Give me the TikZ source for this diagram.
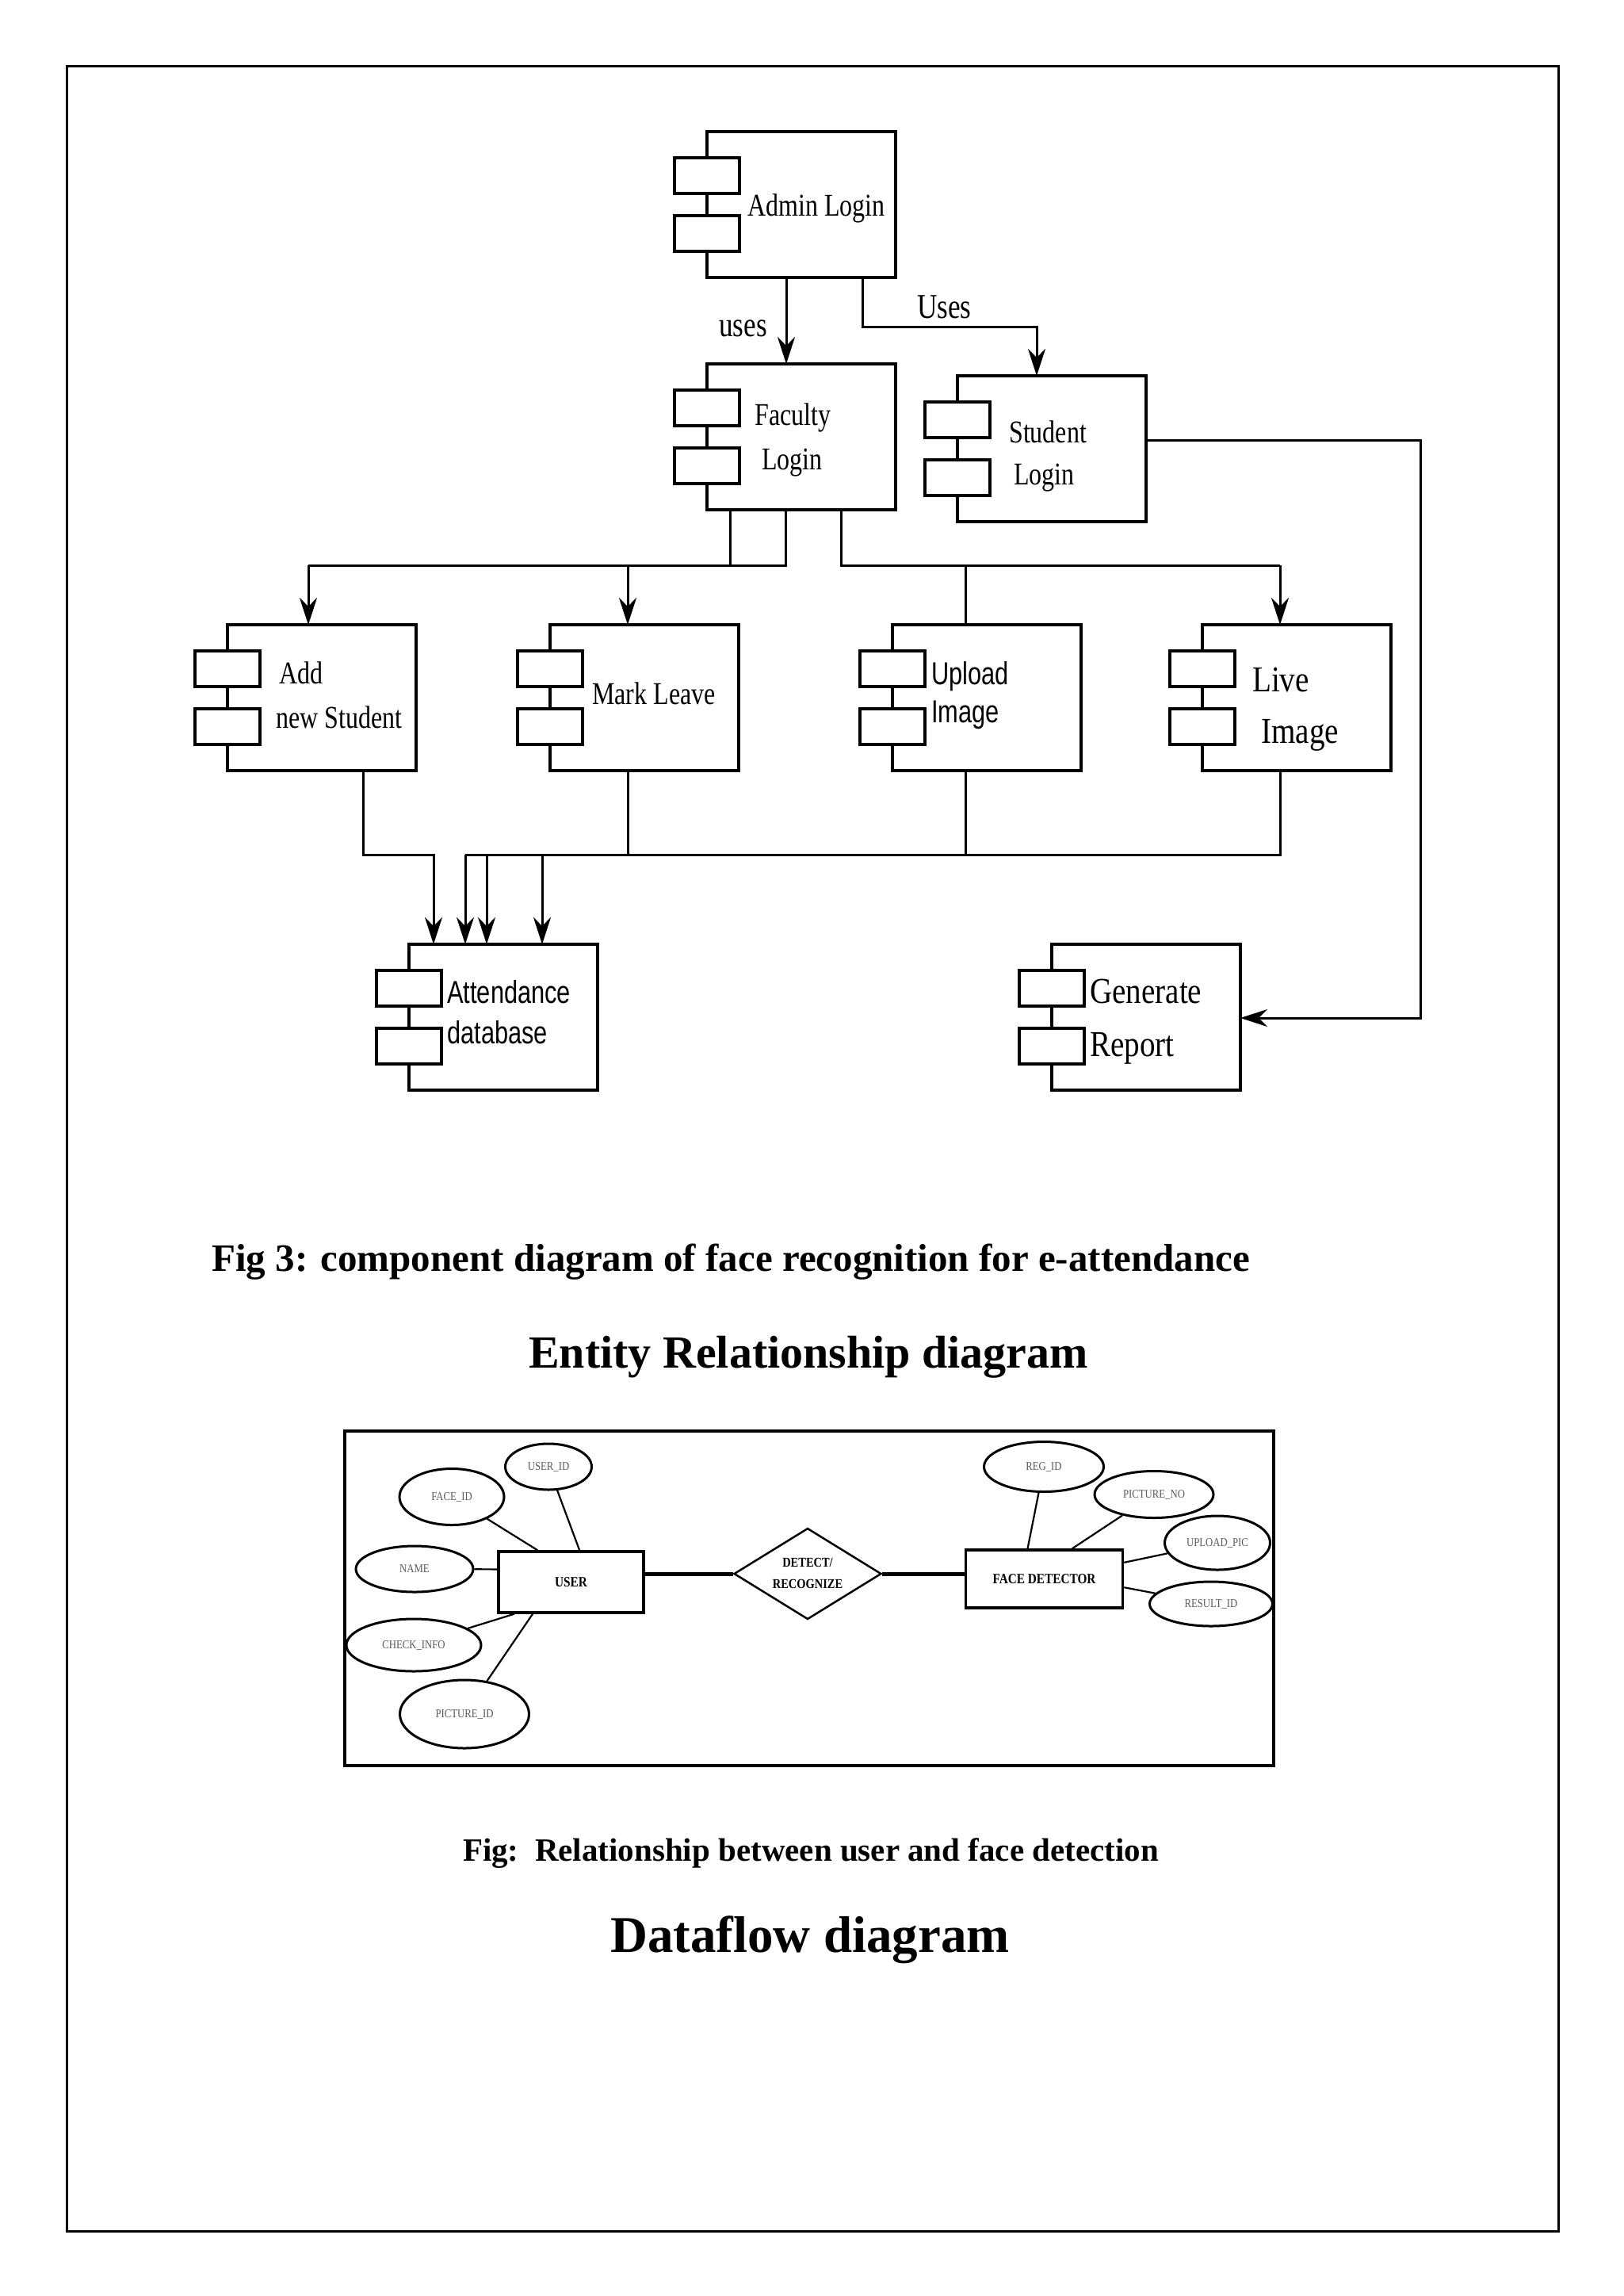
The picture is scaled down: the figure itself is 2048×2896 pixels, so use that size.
\documentclass[tikz,border=0pt]{standalone}
\usepackage{fontspec}
\setmainfont{Liberation Serif}
\newfontfamily\cserif[FakeStretch=0.8]{Liberation Serif}
\newfontfamily\gserif[FakeStretch=0.85]{Liberation Serif}
\newfontfamily\csans[FakeStretch=0.77]{Liberation Sans}
\newfontfamily\erserif[FakeStretch=0.85]{Liberation Serif}
\usetikzlibrary{arrows.meta,shapes.geometric,calc}
\newcommand\mkcomp[3]{%
  \node[compbox] (#1) at (#2,#3) {};
  \node[port] (#1p1) at ($(#1.north west)+(0,55)$) {};
  \node[port] (#1p2) at ($(#1.north west)+(0,128)$) {};
}
\begin{document}
\begin{tikzpicture}[x=1pt,y=-1pt,
  compbox/.style={draw,line width=4pt,minimum width=238pt,minimum height=184pt,inner sep=0pt,outer sep=0pt,anchor=north west},
  port/.style={draw,fill=white,line width=4pt,minimum width=82pt,minimum height=45pt,inner sep=0pt},
  lbl/.style={anchor=base west,inner sep=0pt,font=\cserif\fontsize{40}{44}\selectfont},
  slbl/.style={anchor=base west,inner sep=0pt,font=\csans\fontsize{40}{44}\selectfont},
  glbl/.style={anchor=base west,inner sep=0pt,font=\gserif\fontsize{46}{50}\selectfont},
  ulbl/.style={anchor=base west,inner sep=0pt,font=\cserif\fontsize{44}{48}\selectfont},
  conn/.style={line width=3pt},
  arr/.style={conn,-{Stealth[length=34pt,width=22pt]}},
  erent/.style={draw,line width=3.5pt,inner sep=0pt,font=\erserif\bfseries\fontsize{18}{20}\selectfont},
  erattr/.style={draw,ellipse,line width=3pt,inner sep=0pt,text=black!65,font=\erserif\fontsize{15}{17}\selectfont},
  erline/.style={line width=2.2pt},
  caption/.style={inner sep=0pt,font=\bfseries\fontsize{#1}{#1}\selectfont}
]
% page
\fill[white] (0,0) rectangle (2048,2896);
\useasboundingbox (0,0) rectangle (2048,2896);
\draw[line width=3pt] (84,83) rectangle (1966,2814);

% ---------- component diagram ----------
\mkcomp{admin}{892}{166}
\mkcomp{fac}{892}{459}
\mkcomp{stu}{1208}{474}
\mkcomp{add}{287}{788}
\mkcomp{mark}{694}{788}
\mkcomp{upl}{1126}{788}
\mkcomp{live}{1517}{788}
\mkcomp{att}{516}{1191}
\mkcomp{gen}{1327}{1191}

\node[lbl] (tadmin) at (943,272) {Admin Login};
\node[lbl] (tfac1) at (952,536) {Faculty};
\node[lbl] (tfac2) at (961,592) {Login};
\node[lbl] (tstu1) at (1273,558) {Student};
\node[lbl] (tstu2) at (1279,611) {Login};
\node[lbl] (tadd1) at (352,862) {Add};
\node[lbl] (tadd2) at (348,918) {new Student};
\node[lbl] (tmark) at (747,888) {Mark Leave};
\node[slbl] (tupl1) at (1175,863) {Upload};
\node[slbl] (tupl2) at (1175,911) {Image};
\node[glbl] (tlive1) at (1580,872) {Live};
\node[glbl] (tlive2) at (1591,937) {Image};
\node[slbl] (tatt1) at (564,1265) {Attendance};
\node[slbl] (tatt2) at (564,1316) {database};
\node[glbl] (tgen1) at (1375,1265) {Generate};
\node[glbl] (tgen2) at (1375,1332) {Report};
\node[ulbl] (tuses1) at (907,424) {uses};
\node[ulbl] (tuses2) at (1157,401) {Uses};

% guide coordinates
\coordinate (xa) at (992,0);
\coordinate (xb) at (1088,0);
\coordinate (xc) at (1308,0);
\coordinate (yU) at (0,412);
\coordinate (xf1) at (921,0);
\coordinate (xf2) at (991,0);
\coordinate (xf3) at (1061,0);
\coordinate (yF) at (0,713);
\coordinate (xadd) at (389,0);
\coordinate (xmark) at (792,0);
\coordinate (xupl) at (1218,0);
\coordinate (xlive) at (1615,0);
\coordinate (xaddb) at (458,0);
\coordinate (yB) at (0,1078);
\coordinate (xa1) at (547,0);
\coordinate (xa2) at (587,0);
\coordinate (xa3) at (614,0);
\coordinate (xa4) at (684,0);
\coordinate (ys) at (0,555);
\coordinate (xr) at (1792,0);
\coordinate (ygen) at (0,1284);

\draw[arr] (admin.south -| xa) -- (fac.north -| xa);
\draw[arr] (admin.south -| xb) |- (xc |- yU) -- (stu.north -| xc);

\draw[conn] (fac.south -| xf1) -- (xf1 |- yF);
\draw[conn] (fac.south -| xf2) -- (xf2 |- yF) -- (xadd |- yF);
\draw[arr] (xadd |- yF) -- (add.north -| xadd);
\draw[arr] (xmark |- yF) -- (mark.north -| xmark);
\draw[conn] (fac.south -| xf3) |- (xlive |- yF);
\draw[conn] (xupl |- yF) -- (upl.north -| xupl);
\draw[arr] (xlive |- yF) -- (live.north -| xlive);

\draw[arr] (add.south -| xaddb) |- (xa1 |- yB) -- (att.north -| xa1);
\draw[conn] (mark.south -| xmark) -- (xmark |- yB);
\draw[conn] (upl.south -| xupl) -- (xupl |- yB);
\draw[conn] (live.south -| xlive) -- (xlive |- yB) -- (xa2 |- yB);
\draw[arr] (xa2 |- yB) -- (att.north -| xa2);
\draw[arr] (xa3 |- yB) -- (att.north -| xa3);
\draw[arr] (xa4 |- yB) -- (att.north -| xa4);

\draw[arr] (stu.east |- ys) -| (xr |- ygen) -- (gen.east |- ygen);

% ---------- captions ----------
\node[caption=49,anchor=base west] (cap1) at (267,1603) {Fig 3: component diagram of face recognition for e-attendance};
\node[caption=58,anchor=base] (title1) at (1020,1725) {Entity Relationship diagram};
\node[caption=41,anchor=base] (cap2) at (1023,2347) {Fig:\ \ Relationship between user and face detection};
\node[caption=65,anchor=base] (title2) at (1022,2462) {Dataflow diagram};

% ---------- ER diagram ----------
\draw[line width=3.5pt] (435,1805) rectangle (1607,2227);

\node[erent,minimum width=183pt,minimum height=77pt] (user) at (720.5,1995.5) {USER};
\node[erent,minimum width=198pt,minimum height=73pt] (fd) at (1317.5,1991.5) {FACE DETECTOR};
\node[draw,diamond,line width=2.5pt,minimum width=186pt,minimum height=115pt,inner sep=0pt] (dia) at (1019,1985) {};
\node[align=center,inner sep=0pt,font=\erserif\bfseries\fontsize{17}{27}\selectfont] (dtext) at (1019,1984) {DETECT/\\RECOGNIZE};

\node[erattr,minimum width=109pt,minimum height=58pt] (userid) at (692,1850) {USER\_ID};
\node[erattr,minimum width=132pt,minimum height=71pt] (faceid) at (570,1888) {FACE\_ID};
\node[erattr,minimum width=148pt,minimum height=58pt] (name) at (523,1979) {NAME};
\node[erattr,minimum width=170pt,minimum height=66pt] (check) at (522,2075) {CHECK\_INFO};
\node[erattr,minimum width=163pt,minimum height=86pt] (picid) at (586,2162) {PICTURE\_ID};
\node[erattr,minimum width=151pt,minimum height=63pt] (regid) at (1317,1850) {REG\_ID};
\node[erattr,minimum width=150pt,minimum height=59pt] (picno) at (1456,1885) {PICTURE\_NO};
\node[erattr,minimum width=133pt,minimum height=68pt] (uppic) at (1536,1946) {UPLOAD\_PIC};
\node[erattr,minimum width=155pt,minimum height=56pt] (resid) at (1528,2023) {RESULT\_ID};

\draw[line width=5pt] (user.east |- dia.west) -- (dia.west);
\draw[line width=5pt] (dia.east) -- (fd.west |- dia.east);

\draw[erline] (userid) -- ($(user.north west)!0.557!(user.north east)$);
\draw[erline] (faceid) -- ($(user.north west)!0.273!(user.north east)$);
\draw[erline] (name) -- ($(user.north west)!0.3!(user.south west)$);
\draw[erline] (check) -- ($(user.south west)!0.115!(user.south east)$);
\draw[erline] (picid) -- ($(user.south west)!0.24!(user.south east)$);
\draw[erline] (regid) -- ($(fd.north west)!0.396!(fd.north east)$);
\draw[erline] (picno) -- ($(fd.north west)!0.675!(fd.north east)$);
\draw[erline] (uppic) -- ($(fd.north east)!0.23!(fd.south east)$);
\draw[erline] (resid) -- ($(fd.north east)!0.64!(fd.south east)$);
\end{tikzpicture}
\end{document}
